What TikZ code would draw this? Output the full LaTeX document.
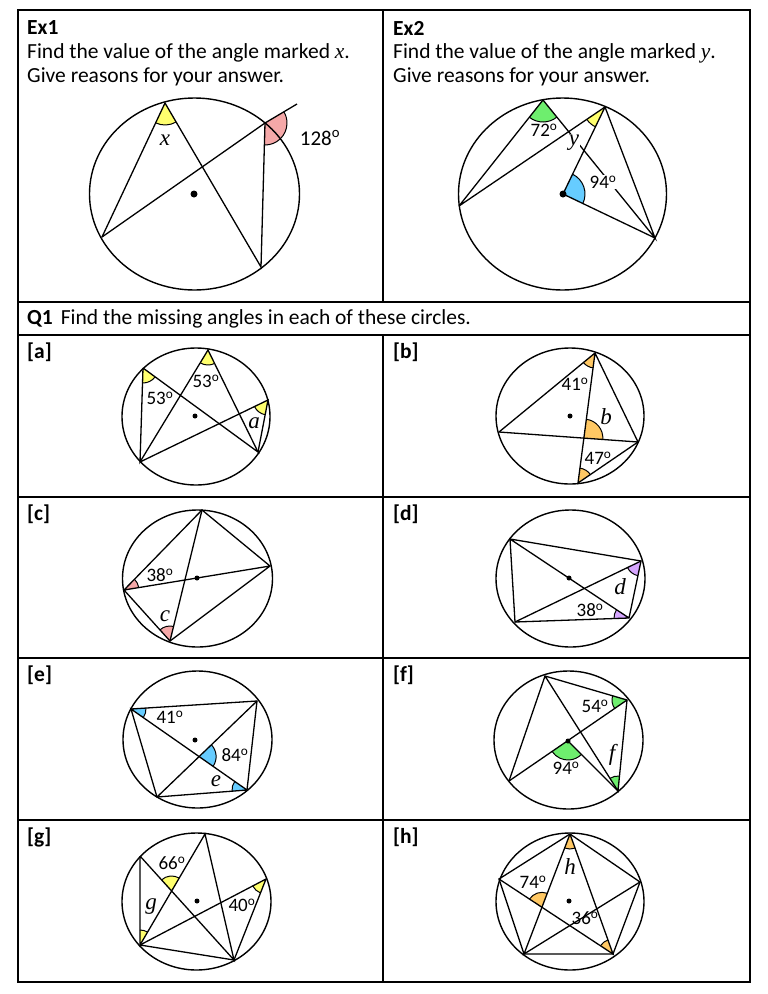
\documentclass[tikz,border=0pt]{standalone}
\usepackage{fontspec}
\setmainfont{Carlito}
\newfontfamily\varfont{Liberation Serif}
\usetikzlibrary{angles}
\definecolor{cyel}{RGB}{255,255,110}
\definecolor{cred}{RGB}{245,168,168}
\definecolor{cgrn}{RGB}{110,238,110}
\definecolor{cblu}{RGB}{102,204,255}
\definecolor{corg}{RGB}{255,200,100}
\definecolor{cpur}{RGB}{214,166,255}
\newcommand{\dg}[1]{#1\textsuperscript{o}}
\newcommand{\vr}[1]{{\varfont\itshape #1}}
\tikzset{
  grid/.style={line width=1.4pt},
  chord/.style={line width=1.3pt},
  rim/.style={line width=1.4pt},
  txt/.style={anchor=west, inner sep=0pt, font=\fontsize{21.5}{24}\selectfont},
  lbl/.style={inner sep=0pt, font=\fontsize{19}{21}\selectfont},
  mlbl/.style={inner sep=0pt, font=\fontsize{23}{25}\selectfont},
  wedge/.style={draw, line width=1pt, angle radius=#1}
}
\begin{document}
\begin{tikzpicture}[x=1pt,y=-1pt]
\useasboundingbox (0,0) rectangle (768,994);
% table
\draw[grid] (18,10) rectangle (750,982);
\foreach \yy in {302,335,497,658,820} \draw[grid] (18,\yy) -- (750,\yy);
\draw[grid] (383,10) -- (383,302);
\draw[grid] (383,335) -- (383,982);
% headings
\node[txt] (ex1) at (27,28) {\textbf{Ex1}};
\node[txt] (ex1a) at (27,53) {Find the value of the angle marked \vr{x}.};
\node[txt] (ex1b) at (27,77) {Give reasons for your answer.};
\node[txt] (ex2) at (393,28) {\textbf{Ex2}};
\node[txt] (ex2a) at (393,53) {Find the value of the angle marked \vr{y}.};
\node[txt] (ex2b) at (393,77) {Give reasons for your answer.};
\node[txt] (q1) at (27,319) {\textbf{Q1}\hspace{8pt}Find the missing angles in each of these circles.};
\foreach \lab/\px/\py in {a/27/352,b/393/352,c/27/514,d/393/514,e/27/675,f/393/675,g/27/837,h/393/837}
  \node[txt] (lab\lab) at (\px,\py) {\textbf{[\lab]}};

% Ex1
\begin{scope}
\coordinate (A) at (165,103); \coordinate (B) at (102,237);
\coordinate (C) at (261,267); \coordinate (D) at (265,123);
\coordinate (E) at (297,104);
\pic[wedge=22pt, fill=cyel] {angle=B--A--C};
\pic[wedge=22pt, fill=cred] {angle=C--D--E};
\draw[rim] (194.5,194) ellipse [x radius=105, y radius=96];
\draw[chord] (B) -- (A) -- (C) -- (D) -- (E);
\draw[chord] (B) -- (D);
\fill (194,194) circle (3.5);
\node[mlbl] (lx) at (165,140) {\vr{x}};
\node[lbl, font=\fontsize{21}{24}\selectfont] (l128) at (320,138) {\dg{128}};
\end{scope}

% Ex2
\begin{scope}
\coordinate (P) at (543,100); \coordinate (Q) at (605,107);
\coordinate (L) at (459,206); \coordinate (R) at (655,238);
\coordinate (O) at (563,194);
\pic[wedge=22pt, fill=cgrn] {angle=L--P--R};
\pic[wedge=22pt, fill=cyel] {angle=L--Q--O};
\pic[wedge=22pt, fill=cblu] {angle=R--O--Q};
\draw[rim] (562.5,194) ellipse [x radius=104, y radius=96];
\draw[chord] (L) -- (P) -- (R) -- (Q) -- (L);
\draw[chord] (Q) -- (O) -- (R);
\fill (O) circle (3.5);
\node[lbl, fill=white, inner sep=1pt] (l72) at (544,130) {\dg{72}};
\node[mlbl, fill=white, inner sep=1pt] (ly) at (574,143) {\vr{y}};
\node[lbl, fill=white, inner sep=1pt] (l94) at (603,182) {\dg{94}};
\end{scope}

% [a]
\begin{scope}
\coordinate (T) at (208,350); \coordinate (UL) at (143,368);
\coordinate (R) at (268,400); \coordinate (BR) at (258,452);
\coordinate (BL) at (140,462);
\pic[wedge=15pt, fill=cyel] {angle=BL--UL--BR};
\pic[wedge=15pt, fill=cyel] {angle=BL--T--BR};
\pic[wedge=15pt, fill=cyel] {angle=BL--R--BR};
\draw[rim] (196,416.5) ellipse [x radius=74, y radius=68.5];
\draw[chord] (UL) -- (BL) -- (T) -- (BR) -- (UL);
\draw[chord] (BL) -- (R) -- (BR);
\fill (195,416) circle (2.5);
\node[lbl] (la1) at (160,398) {\dg{53}};
\node[lbl] (la2) at (206,381) {\dg{53}};
\node[mlbl] (la) at (254,423) {\vr{a}};
\end{scope}

% [b]
\begin{scope}
\coordinate (T) at (595,353); \coordinate (L) at (499,432);
\coordinate (R) at (638,442); \coordinate (B) at (578,483);
\coordinate (X) at (intersection of T--B and L--R);
\pic[wedge=15pt, fill=corg] {angle=L--T--B};
\pic[wedge=19pt, fill=corg] {angle=R--X--T};
\pic[wedge=15pt, fill=corg] {angle=R--B--T};
\draw[rim] (570,416) ellipse [x radius=74, y radius=68];
\draw[chord] (L) -- (T) -- (R) -- (B) -- (T);
\draw[chord] (L) -- (R);
\fill (570,416) circle (2.5);
\node[lbl] (lb1) at (575,384) {\dg{41}};
\node[mlbl] (lb) at (606,417) {\vr{b}};
\node[lbl] (lb2) at (598,458) {\dg{47}};
\end{scope}

% [c]
\begin{scope}
\coordinate (T) at (202,510); \coordinate (L) at (124,590);
\coordinate (R) at (270,566); \coordinate (B) at (170,641);
\pic[wedge=15pt, fill=cred] {angle=R--L--T};
\pic[wedge=15pt, fill=cred] {angle=T--B--L};
\draw[rim] (197.5,578.5) ellipse [x radius=75, y radius=68.5];
\draw[chord] (L) -- (T) -- (R) -- (B) -- (L) -- (R);
\draw[chord] (T) -- (B);
\fill (197,578) circle (2.5);
\node[lbl] (lc1) at (160,575) {\dg{38}};
\node[mlbl] (lc) at (165,616) {\vr{c}};
\end{scope}

% [d]
\begin{scope}
\coordinate (UL) at (510,539); \coordinate (R) at (641,561);
\coordinate (BL) at (515,622); \coordinate (BR) at (629,618);
\pic[wedge=15pt, fill=cpur] {angle=BL--R--BR};
\pic[wedge=15pt, fill=cpur] {angle=UL--BR--BL};
\draw[rim] (570.5,578.5) ellipse [x radius=74.5, y radius=68.5];
\draw[chord] (UL) -- (R) -- (BR) -- (BL) -- (UL) -- (BR);
\draw[chord] (BL) -- (R);
\fill (569,578) circle (2.5);
\node[mlbl] (ld) at (620,587) {\vr{d}};
\node[lbl] (ld1) at (590,610) {\dg{38}};
\end{scope}

% [e]
\begin{scope}
\coordinate (UL) at (131,709); \coordinate (UR) at (257,701);
\coordinate (BL) at (157,797); \coordinate (BR) at (247,790);
\coordinate (X) at (intersection of UL--BR and UR--BL);
\pic[wedge=15pt, fill=cblu] {angle=BR--UL--UR};
\pic[wedge=17pt, fill=cblu] {angle=BR--X--UR};
\pic[wedge=15pt, fill=cblu] {angle=UL--BR--BL};
\draw[rim] (197.5,739.5) ellipse [x radius=74.5, y radius=68.5];
\draw[chord] (UL) -- (UR) -- (BR) -- (BL) -- (UL) -- (BR);
\draw[chord] (UR) -- (BL);
\fill (195,740) circle (2.5);
\node[lbl] (le1) at (170,717) {\dg{41}};
\node[lbl] (le2) at (235,755) {\dg{84}};
\node[mlbl] (le) at (216,781) {\vr{e}};
\end{scope}

% [f]
\begin{scope}
\coordinate (T) at (545,676); \coordinate (R) at (627,700);
\coordinate (L) at (509,781); \coordinate (B) at (618,791);
\coordinate (O) at (568,741);
\pic[wedge=15pt, fill=cgrn] {angle=T--R--L};
\pic[wedge=19pt, fill=cgrn] {angle=L--O--B};
\pic[wedge=15pt, fill=cgrn] {angle=R--B--T};
\draw[rim] (568.5,740) ellipse [x radius=74.5, y radius=69];
\draw[chord] (L) -- (T) -- (R) -- (B) -- (T);
\draw[chord] (L) -- (R);
\draw[chord] (O) -- (B);
\fill (O) circle (2.5);
\node[lbl] (lf1) at (595,706) {\dg{54}};
\node[lbl] (lf2) at (566,768) {\dg{94}};
\node[mlbl] (lf) at (612,755) {\vr{f}};
\end{scope}

% [g]
\begin{scope}
\coordinate (T) at (205,834); \coordinate (UL) at (140,856);
\coordinate (R) at (266,879); \coordinate (BL) at (140,945);
\coordinate (B) at (234,960);
\coordinate (X) at (intersection of UL--B and T--BL);
\pic[wedge=15pt, fill=cyel] {angle=T--X--UL};
\pic[wedge=15pt, fill=cyel] {angle=T--BL--UL};
\pic[wedge=15pt, fill=cyel] {angle=BL--R--B};
\draw[rim] (196.5,901.5) ellipse [x radius=74.5, y radius=68.5];
\draw[chord] (UL) -- (BL) -- (T) -- (B) -- (UL);
\draw[chord] (BL) -- (R) -- (B) -- (BL);
\fill (197,901) circle (2.5);
\node[lbl] (lg1) at (172,863) {\dg{66}};
\node[mlbl] (lg) at (151,907) {\vr{g}};
\node[lbl] (lg2) at (242,905) {\dg{40}};
\end{scope}

% [h]
\begin{scope}
\coordinate (T) at (570,834); \coordinate (L) at (499,879);
\coordinate (R) at (640,882); \coordinate (BL) at (524,954);
\coordinate (BR) at (613,954);
\coordinate (X) at (intersection of T--BL and L--BR);
\pic[wedge=15pt, fill=corg] {angle=BL--T--BR};
\pic[wedge=15pt, fill=corg] {angle=T--X--L};
\pic[wedge=15pt, fill=corg] {angle=T--BR--L};
\draw[rim] (570,901.5) ellipse [x radius=74, y radius=68.5];
\draw[chord] (T) -- (L) -- (BL) -- (BR) -- (R) -- (T);
\draw[chord] (T) -- (BL) -- (R);
\draw[chord] (T) -- (BR) -- (L);
\fill (569,901) circle (2.5);
\node[mlbl] (lh) at (570,867) {\vr{h}};
\node[lbl] (lh1) at (533,882) {\dg{74}};
\node[lbl] (lh2) at (585,918) {\dg{36}};
\end{scope}
\end{tikzpicture}
\end{document}
